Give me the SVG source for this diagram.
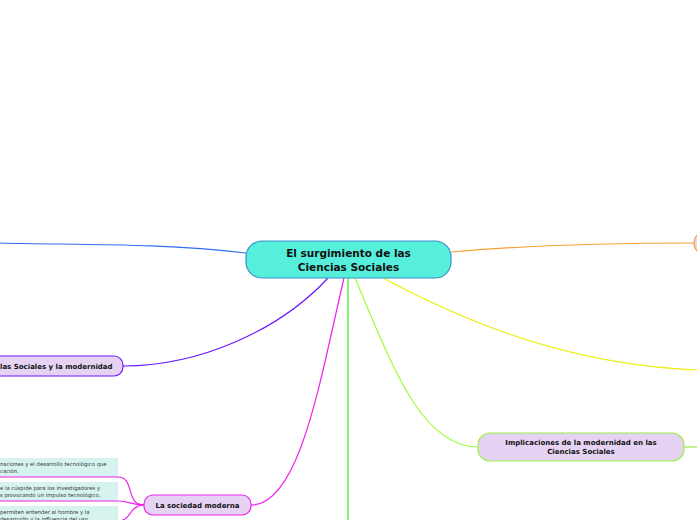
<svg xmlns="http://www.w3.org/2000/svg" width="697" height="520" viewBox="0 0 697 520">
<style>
text{font-family:"DejaVu Sans",Verdana,sans-serif;fill:#111}
.b{font-weight:bold;font-size:7px}
.s{font-size:5.3px;fill:#333}
.c{fill:none;stroke-width:1.2}
.n{fill:#e6d3f4;stroke-width:1.2}
.leaf{fill:#d6f3ef}
</style>
<rect width="697" height="520" fill="#fff"/>
<g id="connectors">
<path class="c" stroke="#2f6cf0" d="M246,253 C160,243 80,245 0,243"/>
<path class="c" stroke="#f5a030" d="M451,252 C540,244 620,243 694,243"/>
<path class="c" stroke="#6a1aff" d="M328,278 C280,330 200,366 123,366"/>
<path class="c" stroke="#ee22ee" d="M344,278 C320,380 300,505 251,505"/>
<path class="c" stroke="#33ee11" d="M348,278 L348,520"/>
<path class="c" stroke="#99ff33" d="M355,278 C390,360 420,447 478,447"/>
<path class="c" stroke="#eeee22" d="M383,278 C480,330 580,365 697,370"/>
<path class="c" stroke="#99ee44" d="M684,447 L697,447"/>
<path class="c" stroke="#ee22ee" d="M144,505 C125,505 135,477 118,477"/>
<path class="c" stroke="#ee22ee" d="M144,505 C130,505 130,501 118,501"/>
<path class="c" stroke="#ee22ee" d="M144,505 C130,505 130,520 122,520"/>
</g>
<g id="center">
<rect x="246" y="241" width="205" height="37" rx="16" fill="#55efdc" stroke="#3a8fcf" stroke-width="1.2"/>
<text x="348.5" y="257" text-anchor="middle" font-weight="bold" font-size="10.5">El surgimiento de las</text>
<text x="348.5" y="271" text-anchor="middle" font-weight="bold" font-size="10.5">Ciencias Sociales</text>
</g>
<g id="n-modernidad">
<rect class="n" x="-30" y="356" width="153" height="20" rx="9" stroke="#6a1aff"/>
<text class="b" x="0" y="369">las Sociales y la modernidad</text>
</g>
<g id="n-sociedad">
<rect class="n" x="144" y="495" width="107" height="20" rx="9" stroke="#ee22ee"/>
<text class="b" x="197.5" y="508" text-anchor="middle">La sociedad moderna</text>
</g>
<g id="n-implicaciones">
<rect class="n" x="478" y="433" width="206" height="28" rx="12" stroke="#99ee44"/>
<text class="b" x="581" y="445" text-anchor="middle">Implicaciones de la modernidad en las</text>
<text class="b" x="581" y="454" text-anchor="middle">Ciencias Sociales</text>
</g>
<g id="n-orange">
<rect class="n" x="694" y="233" width="30" height="20" rx="9" stroke="#f5a030"/>
</g>
<g id="leaf1">
<rect class="leaf" x="-5" y="458" width="123" height="19"/>
<line x1="0" y1="477" x2="118" y2="477" stroke="#ee22ee" stroke-width="1.2"/>
<text class="s" x="0" y="466">naciones y el desarrollo tecnológico que</text>
<text class="s" x="0" y="473">cación.</text>
</g>
<g id="leaf2">
<rect class="leaf" x="-5" y="482" width="123" height="19"/>
<line x1="0" y1="501" x2="118" y2="501" stroke="#ee22ee" stroke-width="1.2"/>
<text class="s" x="0" y="490">e la cúspide para los investigadores y</text>
<text class="s" x="0" y="497">s provocando un impulso tecnológico.</text>
</g>
<g id="leaf3">
<rect class="leaf" x="-5" y="506" width="123" height="16"/>
<text class="s" x="0" y="514">permiten entender al hombre y la</text>
<text class="s" x="0" y="521">desarrurllo y la influencia del uso</text>
</g>
</svg>
